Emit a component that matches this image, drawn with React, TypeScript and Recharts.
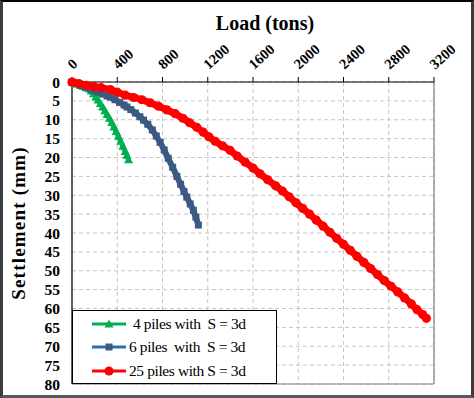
import { LineChart, Line, XAxis, YAxis, CartesianGrid, ReferenceLine } from 'recharts';

const loadTicks = [0, 400, 800, 1200, 1600, 2000, 2400, 2800, 3200];
const settlementTicks = [0, 5, 10, 15, 20, 25, 30, 35, 40, 45, 50, 55, 60, 65, 70, 75, 80];

// 4 piles, S = 3d
const piles4Load = [0, 25, 50, 75, 100, 125, 150, 170, 190, 210, 230, 250, 270, 290, 310, 330, 350, 370, 390, 410, 430, 450, 470, 485, 500];
const piles4Settle = [0, 0.3, 0.6, 0.9, 1.2, 1.5, 1.8, 2.4, 3.1, 4.0, 4.8, 5.7, 6.6, 7.6, 8.6, 9.6, 10.7, 11.9, 13.1, 14.4, 15.7, 17.0, 18.4, 19.4, 20.6];

// 6 piles, S = 3d
const piles6Load = [0, 40, 80, 120, 160, 191, 230, 270, 310, 338, 380, 420, 460, 485, 520, 560, 600, 632, 670, 710, 745, 779, 815, 850, 890, 927, 960, 990, 1015, 1045, 1073, 1095, 1117];
const piles6Settle = [0, 0.4, 0.9, 1.3, 1.8, 2.2, 2.7, 3.2, 3.7, 4.0, 4.7, 5.4, 6.1, 6.6, 7.3, 8.2, 9.2, 10.1, 11.2, 12.7, 14.3, 16.0, 18.0, 20.2, 22.6, 25.0, 27.1, 29.0, 30.5, 32.3, 34.0, 35.8, 37.9];

// 25 piles, S = 3d
const piles25Load = [0, 60, 126, 190, 256, 338, 400, 470, 545, 618, 690, 765, 840, 912, 980, 1040, 1103, 1160, 1210, 1265, 1330, 1397, 1460, 1530, 1600, 1662, 1730, 1800, 1860, 1920, 1980, 2040, 2100, 2160, 2220, 2280, 2340, 2400, 2460, 2520, 2580, 2640, 2700, 2760, 2820, 2880, 2940, 3000, 3050, 3100, 3133];
const piles25Settle = [0, 0.4, 0.9, 1.2, 1.5, 2.0, 2.7, 3.5, 4.1, 4.7, 5.5, 6.4, 7.4, 8.4, 9.6, 10.8, 12.0, 13.3, 14.5, 15.7, 16.9, 18.1, 19.6, 21.2, 22.8, 24.3, 25.9, 27.5, 28.9, 30.4, 32.0, 33.5, 35.0, 36.6, 38.2, 39.8, 41.4, 43.0, 44.6, 46.2, 47.8, 49.4, 51.0, 52.6, 54.1, 55.6, 57.2, 58.8, 60.3, 61.6, 62.6];

const toPoints = (loads: number[], settles: number[]) =>
  loads.map((load, i) => ({ load, settlement: settles[i] }));

const series = [
  { name: '4 piles with  S = 3d', data: toPoints(piles4Load, piles4Settle), color: '#00b050', legendColor: '#00b050', shape: 'triangle', width: 5 },
  { name: '6 piles  with  S = 3d', data: toPoints(piles6Load, piles6Settle), color: '#3b5a82', legendColor: '#2e6db4', shape: 'square', width: 6 },
  { name: '25 piles with S = 3d', data: toPoints(piles25Load, piles25Settle), color: '#ff0000', legendColor: '#ff0000', shape: 'circle', width: 7 },
];

const FONT = '"Liberation Serif", "Times New Roman", serif';

const Marker = ({ cx, cy, shape, color }: any) => {
  if (cx == null || cy == null) return null;
  if (shape === 'triangle') {
    return <polygon points={`${cx},${cy - 4.5} ${cx - 4.5},${cy + 3.5} ${cx + 4.5},${cy + 3.5}`} fill={color} />;
  }
  if (shape === 'square') {
    return <rect x={cx - 3.5} y={cy - 3.5} width={7} height={7} fill={color} />;
  }
  return <circle cx={cx} cy={cy} r={4.6} fill={color} />;
};

const XTick = ({ x, y, payload }: any) => (
  <text
    x={x + 1}
    y={y}
    transform={`rotate(-42, ${x + 1}, ${y})`}
    textAnchor="start"
    fontFamily={FONT}
    fontWeight="bold"
    fontSize={14.5}
    fill="#000"
  >
    {payload.value}
  </text>
);

const LegendBox = () => (
  <div
    style={{
      position: 'absolute',
      left: 72,
      top: 310,
      width: 205,
      height: 74,
      background: '#fff',
      border: '1.5px solid #000',
      boxSizing: 'border-box',
      fontFamily: FONT,
      fontSize: 15.5,
      letterSpacing: -0.4,
      color: '#000',
      paddingTop: 1,
    }}
  >
    {series.map((s, i) => (
      <div key={s.name} style={{ display: 'flex', alignItems: 'center', height: 23.5 }}>
        <svg width={56} height={14} style={{ flexShrink: 0 }}>
          <line x1={19} y1={7} x2={53} y2={7} stroke={s.legendColor} strokeWidth={3} />
          <Marker cx={36} cy={7} shape={s.shape} color={i === 1 ? '#3b5a82' : s.color} />
        </svg>
        <span style={{ whiteSpace: 'pre', marginLeft: i === 0 ? 4 : 0 }}>{s.name}</span>
      </div>
    ))}
  </div>
);

export default function App() {
  return (
    <div style={{ position: 'absolute', left: 0, top: 0, width: 474, height: 398, background: '#fff' }}>
      <LineChart width={474} height={398} margin={{ top: 12, right: 40, bottom: 14, left: 12 }}>
        <CartesianGrid stroke="#c4c4c4" strokeDasharray="4 3" />
        <XAxis
          xAxisId={0}
          dataKey="load"
          type="number"
          orientation="top"
          domain={[0, 3200]}
          ticks={loadTicks}
          height={70}
          axisLine={{ stroke: '#000', strokeWidth: 1.2 }}
          tickLine={{ stroke: '#000' }}
          tickSize={5}
          tickMargin={7}
          tick={<XTick />}
          interval={0}
          label={{
            content: ({ viewBox }: any) => (
              <text
                x={viewBox.x + viewBox.width / 2 + 12}
                y={viewBox.y + 18}
                textAnchor="middle"
                fontFamily={FONT}
                fontWeight="bold"
                fontSize={20}
                fill="#000"
              >
                Load (tons)
              </text>
            ),
          }}
        />
        <YAxis
          yAxisId={0}
          dataKey="settlement"
          type="number"
          reversed
          domain={[0, 80]}
          ticks={settlementTicks}
          interval={0}
          width={60}
          axisLine={{ stroke: '#000', strokeWidth: 1.2 }}
          tickLine={false}
          tickMargin={6}
          tick={{ fontFamily: FONT, fontWeight: 'bold', fontSize: 15.5, fill: '#000' }}
          label={{
            content: ({ viewBox }: any) => {
              const cx = viewBox.x + 6;
              const cy = viewBox.y + viewBox.height / 2 - 10;
              return (
                <text
                  x={cx}
                  y={cy}
                  transform={`rotate(-90, ${cx}, ${cy})`}
                  textAnchor="middle"
                  dominantBaseline="central"
                  fontFamily={FONT}
                  fontWeight="bold"
                  fontSize={19}
                  letterSpacing={1.2}
                  fill="#000"
                >
                  Settlement (mm)
                </text>
              );
            },
          }}
        />
        <ReferenceLine x={3200} stroke="#808080" strokeWidth={1.2} />
        <ReferenceLine y={80} stroke="#808080" strokeWidth={1.2} />
        {series.map((s) => (
          <Line
            key={s.name}
            data={s.data}
            dataKey="settlement"
            name={s.name}
            type="linear"
            stroke={s.color}
            strokeWidth={s.width}
            dot={(p: any) => <Marker key={`${s.name}-${p.index}`} cx={p.cx} cy={p.cy} shape={s.shape} color={s.color} />}
            activeDot={false}
            isAnimationActive={false}
          />
        ))}
      </LineChart>
      <LegendBox />
      <div
        style={{
          position: 'absolute',
          inset: 0,
          borderTop: '2px solid #000',
          borderLeft: '3px solid #3c3c3c',
          borderRight: '3px solid #3c3c3c',
          borderBottom: '3px solid #5a5a5a',
          boxSizing: 'border-box',
          pointerEvents: 'none',
        }}
      />
    </div>
  );
}
